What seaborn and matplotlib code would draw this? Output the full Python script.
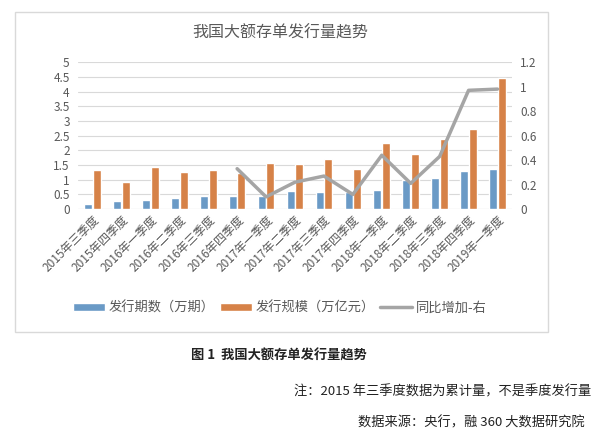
import numpy as np
import pandas as pd
import seaborn as sns
import matplotlib.pyplot as plt
from matplotlib.patches import Rectangle

quarters = ["2015年三季度", "2015年四季度", "2016年一季度", "2016年二季度", "2016年三季度",
            "2016年四季度", "2017年一季度", "2017年二季度", "2017年三季度", "2017年四季度",
            "2018年一季度", "2018年二季度", "2018年三季度", "2018年四季度", "2019年一季度"]
issues = [0.17, 0.26, 0.32, 0.39, 0.46, 0.46, 0.46, 0.61, 0.57, 0.57, 0.66, 0.98, 1.07, 1.29, 1.36]
scale = [1.34, 0.93, 1.45, 1.25, 1.32, 1.24, 1.57, 1.55, 1.70, 1.38, 2.24, 1.86, 2.40, 2.72, 4.45]
growth = [np.nan, np.nan, np.nan, np.nan, np.nan,
          0.33, 0.10, 0.22, 0.27, 0.12, 0.44, 0.21, 0.43, 0.97, 0.98]

s1 = "发行期数（万期）"
s2 = "发行规模（万亿元）"
s3 = "同比增加-右"

sns.set_theme(style="white")
plt.rcParams["font.family"] = ["Noto Sans CJK SC", "DejaVu Sans"]
plt.rcParams["axes.unicode_minus"] = False

df = pd.DataFrame({"季度": quarters * 2,
                   "值": issues + scale,
                   "系列": [s1] * len(quarters) + [s2] * len(quarters)})
line_df = pd.DataFrame({"pos": np.arange(len(quarters)), "同比": growth}).dropna()

fig = plt.figure(figsize=(6, 4.44), dpi=100)
ax = fig.add_axes([0.13, 0.529, 0.7233, 0.331])

sns.barplot(data=df, x="季度", y="值", hue="系列", palette=["#5B9BD5", "#ED7D31"],
            width=0.6, gap=0.08, ax=ax)
ax.get_legend().remove()

ax2 = ax.twinx()
sns.lineplot(data=line_df, x="pos", y="同比", color="#A5A5A5", linewidth=2.5, ax=ax2, label=s3)
ax2.get_legend().remove()

ax.set_ylim(0, 5)
ax.set_yticks(np.arange(0, 5.01, 0.5))
ax.set_yticklabels(["0", "0.5", "1", "1.5", "2", "2.5", "3", "3.5", "4", "4.5", "5"])
ax2.set_ylim(0, 1.2)
ax2.set_yticks(np.arange(0, 1.21, 0.2))
ax2.set_yticklabels(["0", "0.2", "0.4", "0.6", "0.8", "1", "1.2"])
ax.set_xlim(-0.5, len(quarters) - 0.5)

ax.grid(axis="y", color="#D9D9D9", linewidth=0.8)
ax.set_axisbelow(True)
for a in (ax, ax2):
    for sp in a.spines.values():
        sp.set_visible(False)
    a.set_xlabel("")
    a.set_ylabel("")
ax.axhline(0, color="#D9D9D9", linewidth=0.8, zorder=0)

ax.tick_params(axis="y", labelsize=8.5, labelcolor="#595959", length=0, pad=6)
ax2.tick_params(axis="y", labelsize=8.5, labelcolor="#595959", length=0, pad=6)
ax.tick_params(axis="x", labelsize=8.5, labelcolor="#595959", length=0, pad=3)
for lbl in ax.get_xticklabels():
    lbl.set_rotation(45)
    lbl.set_ha("right")
    lbl.set_rotation_mode("anchor")

h1, l1 = ax.get_legend_handles_labels()
h2, l2 = ax2.get_legend_handles_labels()
fig.legend(h1 + h2, l1 + l2, loc="center", bbox_to_anchor=(0.467, 0.306), ncol=3,
           frameon=False, fontsize=9.5, handlelength=2.4, handleheight=0.5,
           columnspacing=0.4, handletextpad=0.3, labelcolor="#595959")

fig.patches.append(Rectangle((0.025, 0.252), 0.888, 0.721, transform=fig.transFigure,
                             fill=False, edgecolor="#D9D9D9", linewidth=1))

fig.text(0.467, 0.926, "我国大额存单发行量趋势", ha="center", va="center",
         fontsize=11.5, color="#595959")
fig.text(0.465, 0.200, "图 1  我国大额存单发行量趋势", ha="center", va="center",
         fontsize=9.5, color="#222222", fontweight="bold")
fig.text(0.985, 0.117, "注：2015 年三季度数据为累计量，不是季度发行量", ha="right", va="center",
         fontsize=9.5, color="#222222")
fig.text(0.975, 0.047, "数据来源：央行，融 360 大数据研究院", ha="right", va="center",
         fontsize=9.5, color="#222222")

fig.savefig("out.png", dpi=100)
